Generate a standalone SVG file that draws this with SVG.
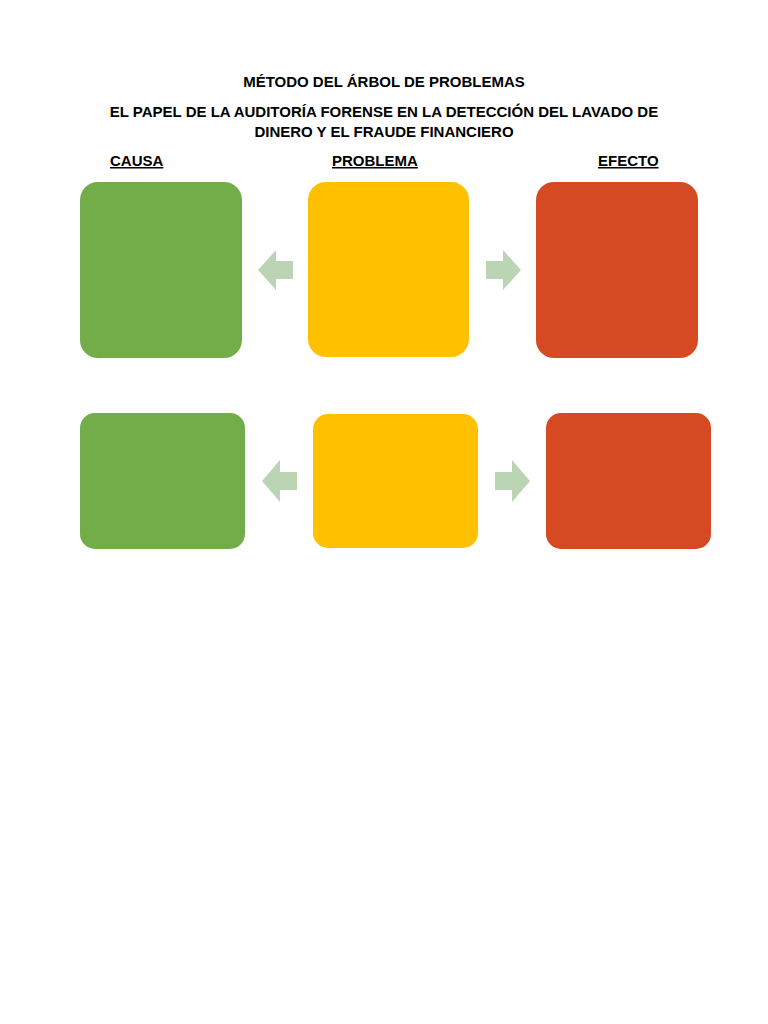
<svg xmlns="http://www.w3.org/2000/svg" width="768" height="1024" viewBox="0 0 768 1024">
<style>
.t{font-family:"Liberation Sans",Arial,sans-serif;font-weight:bold;font-size:15px;fill:#000;text-anchor:middle}
.h{font-family:"Liberation Sans",Arial,sans-serif;font-weight:bold;font-size:15px;fill:#000;text-decoration:underline}
.g{fill:#72AD4A}.y{fill:#FFC000}.r{fill:#D54A22}
.a{fill:#BBD4B4}
</style>
<rect width="768" height="1024" fill="#fff"/>
<g id="titles">
<text class="t" x="384" y="87">MÉTODO DEL ÁRBOL DE PROBLEMAS</text>
<text class="t" x="384" y="117">EL PAPEL DE LA AUDITORÍA FORENSE EN LA DETECCIÓN DEL LAVADO DE</text>
<text class="t" x="384" y="137">DINERO Y EL FRAUDE FINANCIERO</text>
<text class="h" x="110" y="166">CAUSA</text>
<text class="h" x="332" y="166">PROBLEMA</text>
<text class="h" x="598" y="166">EFECTO</text>
</g>
<g id="causa1"><rect class="g" x="80" y="182" width="162" height="176" rx="18"/></g>
<g id="problema1"><rect class="y" x="308" y="182" width="161" height="175" rx="18"/></g>
<g id="efecto1"><rect class="r" x="536" y="182" width="162" height="176" rx="18"/></g>
<g id="causa2"><rect class="g" x="80" y="413" width="165" height="136" rx="15"/></g>
<g id="problema2"><rect class="y" x="313" y="414" width="165" height="134" rx="15"/></g>
<g id="efecto2"><rect class="r" x="546" y="413" width="165" height="136" rx="15"/></g>
<g id="connectors">
<polygon class="a" points="258,270 276,250 276,261 293,261 293,279 276,279 276,290"/>
<polygon class="a" points="521,270 503,250 503,261 486,261 486,279 503,279 503,290"/>
<polygon class="a" points="262,481 280,460 280,472 297,472 297,490 280,490 280,502"/>
<polygon class="a" points="530,481 512,460 512,472 495,472 495,490 512,490 512,502"/>
</g>
</svg>
